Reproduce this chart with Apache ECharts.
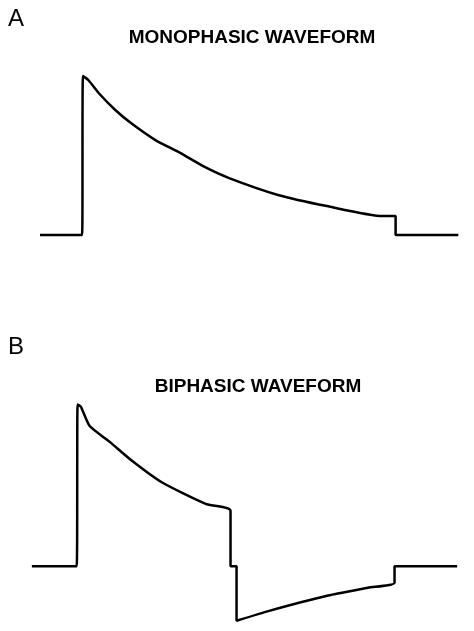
<!DOCTYPE html>
<html><head><meta charset="utf-8">
<script src="https://cdn.jsdelivr.net/npm/echarts@6/dist/echarts.min.js"></script>
<style>html,body{margin:0;padding:0;background:#fff}#c{width:474px;height:631px}</style>
</head><body><div id="c"></div>
<script>
// time in ms, amplitude in % of peak
const monoTime = [-1.34,0,0.03,0.2,0.53,1.06,1.56,2.34,3.13,3.91,4.69,6.25,7.81,9.59,10,10,12];
const monoAmp  = [0,0,100,97.5,89.3,78.6,70.4,59.7,51.6,42.8,35.8,25.2,18.2,11.9,11.9,0,0];
const biTime = [-1.41,0,0.03,0.13,0.41,1.03,1.75,2.69,4.06,4.84,4.84,5.03,5.03,6.03,7.91,9.16,10,10,11.97];
const biAmp  = [0,0,100,98.8,86.7,77.1,65.1,51.8,38.6,34.3,0,0,-33.7,-27.7,-18.1,-13.3,-10.2,0,0];
const titles = ['MONOPHASIC WAVEFORM','BIPHASIC WAVEFORM'];
const panels = ['A','B'];

const zip = (a,b)=>a.map((v,i)=>[v,b[i]]);
const chart = echarts.init(document.getElementById('c'));
chart.setOption({
  animation:false,
  title:[
    {text:panels[0],left:3,top:2,textStyle:{fontFamily:'Liberation Sans',fontSize:24,fontWeight:'normal',color:'#000'}},
    {text:titles[0],left:247,top:23,textAlign:'center',textStyle:{fontFamily:'Liberation Sans',fontSize:19,fontWeight:'bold',color:'#000'}},
    {text:panels[1],left:3,top:330,textStyle:{fontFamily:'Liberation Sans',fontSize:24,fontWeight:'normal',color:'#000'}},
    {text:titles[1],left:253,top:372,textAlign:'center',textStyle:{fontFamily:'Liberation Sans',fontSize:19,fontWeight:'bold',color:'#000'}}
  ],
  grid:[
    {left:35,width:448,top:60.1,height:190.8},
    {left:29,width:448,top:388.4,height:249}
  ],
  xAxis:[
    {gridIndex:0,type:'value',show:false,min:-1.5,max:12.5},
    {gridIndex:1,type:'value',show:false,min:-1.5,max:12.5}
  ],
  yAxis:[
    {gridIndex:0,type:'value',show:false,min:-10,max:110},
    {gridIndex:1,type:'value',show:false,min:-40,max:110}
  ],
  series:[
    {type:'line',xAxisIndex:0,yAxisIndex:0,data:zip(monoTime,monoAmp),smooth:0.2,showSymbol:false,lineStyle:{color:'#000',width:2.5}},
    {type:'line',xAxisIndex:1,yAxisIndex:1,data:zip(biTime,biAmp),smooth:0.2,showSymbol:false,lineStyle:{color:'#000',width:2.5}}
  ]
});
</script></body></html>
